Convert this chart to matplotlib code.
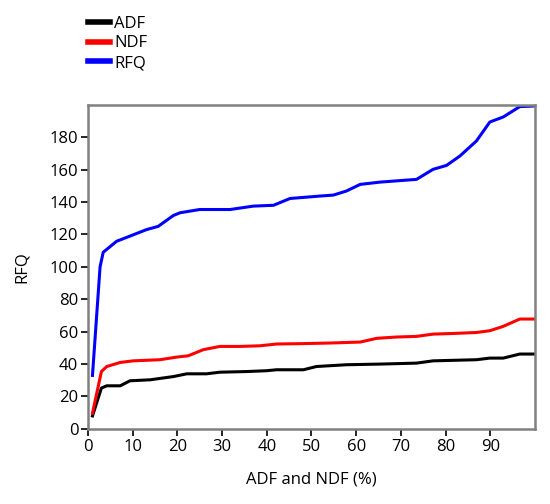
import matplotlib.pyplot as plt

plt.rcParams['font.family'] = ['Open Sans', 'DejaVu Sans']

# values (percentile on x, value on y)
adf_x = [1, 3, 4.2, 7.2, 9.4, 13.9, 19.1, 22.1, 26.5, 29.5, 35.5, 39.9, 42.2,
         48.2, 51.1, 57.8, 65.3, 73.5, 77.2, 86.9, 89.9, 92.9, 96.6, 100]
adf_y = [8, 25.2, 26.6, 26.6, 29.7, 30.3, 32.3, 34, 34, 35, 35.4, 35.9, 36.5,
         36.5, 38.5, 39.6, 40, 40.6, 42, 42.7, 43.7, 43.7, 46.2, 46.2]

ndf_x = [1, 3, 4.2, 7.2, 10.1, 16.1, 19.8, 22.4, 25.8, 29.5, 34, 38.5, 42.2,
         47.4, 54.1, 60.9, 64.6, 69, 73.5, 77.2, 81.7, 86.9, 89.9, 92.9, 96.6, 100]
ndf_y = [9.7, 35.4, 38.5, 41, 42, 42.7, 44.3, 45.1, 48.9, 50.9, 50.9, 51.3, 52.4,
         52.6, 53, 53.6, 55.9, 56.7, 57.1, 58.5, 58.9, 59.5, 60.6, 63.3, 67.8, 67.8]

rfq_x = [1, 2.7, 3.4, 6.4, 9.4, 13.1, 15.7, 19.1, 20.6, 25, 31.8, 37, 41.5,
         45.2, 51.9, 54.9, 57.8, 60.9, 65.3, 73.5, 77.2, 80.2, 83.2, 86.9,
         89.9, 92.9, 96.6, 100]
rfq_y = [33, 100, 109, 115.8, 119, 123, 125, 131.7, 133.4, 135.4, 135.4, 137.5,
         138, 142.2, 143.7, 144.3, 146.8, 150.9, 152.3, 154, 160.2, 162.6,
         168.4, 177.7, 189.4, 192.5, 198.9, 199.3]

x_ticks = list(range(0, 100, 10))
y_ticks = list(range(0, 200, 20))

fig = plt.figure(figsize=(5.5, 5.04), dpi=100)
ax = fig.add_axes([0.16, 0.149, 0.8127, 0.643])

ax.plot(adf_x, adf_y, color='black', lw=2.2, label='ADF')
ax.plot(ndf_x, ndf_y, color='#ff0000', lw=2.2, label='NDF')
ax.plot(rfq_x, rfq_y, color='#0000ff', lw=2.2, label='RFQ')

ax.set_xlim(0, 100)
ax.set_ylim(0, 200)
ax.set_xticks(x_ticks)
ax.set_yticks(y_ticks)
ax.tick_params(direction='out', length=5, width=1.2, color='black',
               labelsize=12, pad=2)
for s in ax.spines.values():
    s.set_color('#808080')
    s.set_linewidth(1.8)

ax.set_xlabel('ADF and NDF (%)', fontsize=12, labelpad=12)
ax.set_ylabel('RFQ', fontsize=12, labelpad=14)

fig.legend(loc='upper left', bbox_to_anchor=(0.148, 0.982), frameon=False,
           fontsize=12, handlelength=1.3, handletextpad=0.25,
           labelspacing=0.22, borderaxespad=0)
for line in fig.legends[0].get_lines():
    line.set_linewidth(4)

fig.savefig('out.png', dpi=100)
